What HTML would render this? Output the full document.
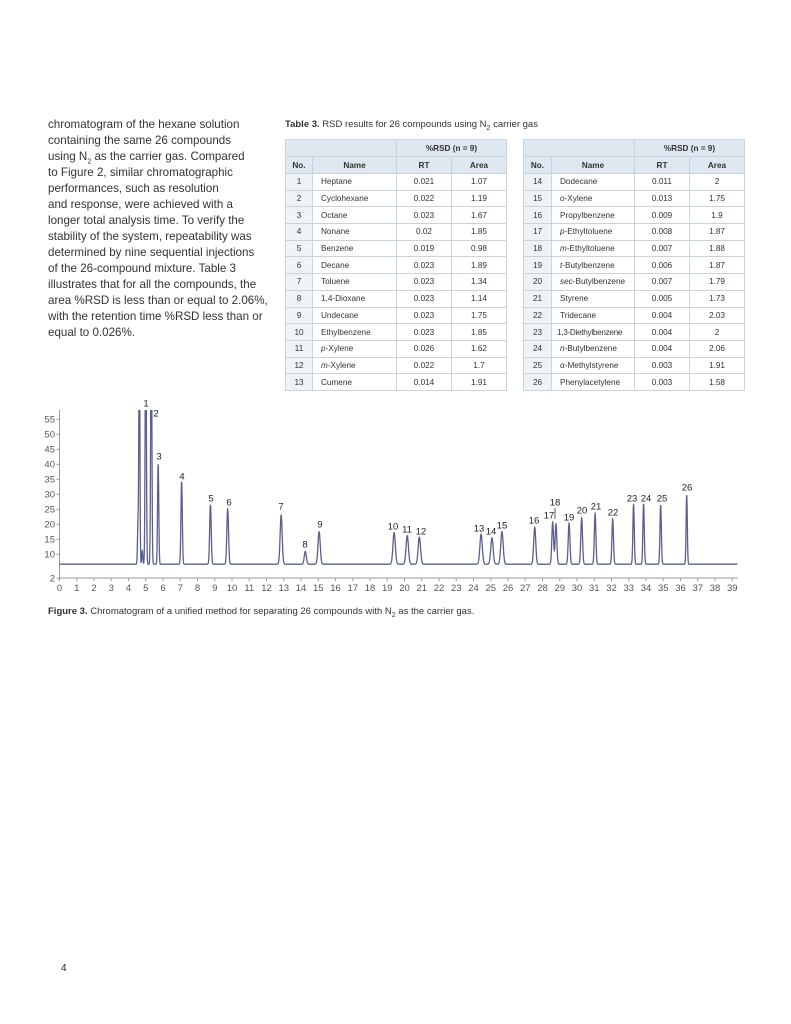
<!DOCTYPE html>
<html><head><meta charset="utf-8"><style>
*{margin:0;padding:0;box-sizing:border-box}
body{width:791px;height:1024px;background:#fff;position:relative;font-family:"Liberation Sans",sans-serif;color:#222;overflow:hidden}
.para{position:absolute;left:48px;top:117px;font-size:11.6px;line-height:16px;color:#333}
.para div{white-space:nowrap;height:16px}
sub{line-height:0;font-size:7px}
.ttl{position:absolute;left:285px;top:119px;font-size:9.5px;color:#333}
table{position:absolute;top:139px;border-collapse:collapse;font-size:8.2px;color:#333;table-layout:fixed}
td{border:1px solid #c9d3dd;text-align:center;height:16.7px;padding:0;white-space:nowrap;overflow:hidden}
tr.h td{height:17px;background:#dfe8f0;font-weight:bold}
td.n{background:#eef3f8}
td.nm{text-align:left;padding-left:8px}
.cap{position:absolute;left:48px;top:606px;font-size:9.5px;color:#333}
.pg{position:absolute;left:61px;top:963px;font-size:10px}
</style></head><body>
<div class="para">
<div>chromatogram of the hexane solution</div>
<div>containing the same 26 compounds</div>
<div>using N<sub>2</sub> as the carrier gas. Compared</div>
<div>to Figure 2, similar chromatographic</div>
<div>performances, such as resolution</div>
<div>and response, were achieved with a</div>
<div>longer total analysis time. To verify the</div>
<div>stability of the system, repeatability was</div>
<div>determined by nine sequential injections</div>
<div>of the 26-compound mixture. Table 3</div>
<div>illustrates that for all the compounds, the</div>
<div>area %RSD is less than or equal to 2.06%,</div>
<div>with the retention time %RSD less than or</div>
<div>equal to 0.026%.</div>
</div>
<div class="ttl"><b>Table 3.</b> RSD results for 26 compounds using N<sub>2</sub> carrier gas</div>
<table style="left:285px;width:221px">
<colgroup><col style="width:27px"><col style="width:84px"><col style="width:55px"><col style="width:55px"></colgroup>
<tr class="h"><td colspan="2"></td><td colspan="2">%RSD (n = 9)</td></tr>
<tr class="h"><td>No.</td><td>Name</td><td>RT</td><td>Area</td></tr>
<tr><td class="n">1</td><td class="nm">Heptane</td><td>0.021</td><td>1.07</td></tr>
<tr><td class="n">2</td><td class="nm">Cyclohexane</td><td>0.022</td><td>1.19</td></tr>
<tr><td class="n">3</td><td class="nm">Octane</td><td>0.023</td><td>1.67</td></tr>
<tr><td class="n">4</td><td class="nm">Nonane</td><td>0.02</td><td>1.85</td></tr>
<tr><td class="n">5</td><td class="nm">Benzene</td><td>0.019</td><td>0.98</td></tr>
<tr><td class="n">6</td><td class="nm">Decane</td><td>0.023</td><td>1.89</td></tr>
<tr><td class="n">7</td><td class="nm">Toluene</td><td>0.023</td><td>1.34</td></tr>
<tr><td class="n">8</td><td class="nm">1,4-Dioxane</td><td>0.023</td><td>1.14</td></tr>
<tr><td class="n">9</td><td class="nm">Undecane</td><td>0.023</td><td>1.75</td></tr>
<tr><td class="n">10</td><td class="nm">Ethylbenzene</td><td>0.023</td><td>1.85</td></tr>
<tr><td class="n">11</td><td class="nm"><i>p</i>-Xylene</td><td>0.026</td><td>1.62</td></tr>
<tr><td class="n">12</td><td class="nm"><i>m</i>-Xylene</td><td>0.022</td><td>1.7</td></tr>
<tr><td class="n">13</td><td class="nm">Cumene</td><td>0.014</td><td>1.91</td></tr>
</table>
<table style="left:523px;width:221px">
<colgroup><col style="width:28px"><col style="width:83px"><col style="width:55px"><col style="width:55px"></colgroup>
<tr class="h"><td colspan="2"></td><td colspan="2">%RSD (n = 9)</td></tr>
<tr class="h"><td>No.</td><td>Name</td><td>RT</td><td>Area</td></tr>
<tr><td class="n">14</td><td class="nm">Dodecane</td><td>0.011</td><td>2</td></tr>
<tr><td class="n">15</td><td class="nm"><i>o</i>-Xylene</td><td>0.013</td><td>1.75</td></tr>
<tr><td class="n">16</td><td class="nm">Propylbenzene</td><td>0.009</td><td>1.9</td></tr>
<tr><td class="n">17</td><td class="nm"><i>p</i>-Ethyltoluene</td><td>0.008</td><td>1.87</td></tr>
<tr><td class="n">18</td><td class="nm"><i>m</i>-Ethyltoluene</td><td>0.007</td><td>1.88</td></tr>
<tr><td class="n">19</td><td class="nm"><i>t</i>-Butylbenzene</td><td>0.006</td><td>1.87</td></tr>
<tr><td class="n">20</td><td class="nm"><i>sec</i>-Butylbenzene</td><td>0.007</td><td>1.79</td></tr>
<tr><td class="n">21</td><td class="nm">Styrene</td><td>0.005</td><td>1.73</td></tr>
<tr><td class="n">22</td><td class="nm">Tridecane</td><td>0.004</td><td>2.03</td></tr>
<tr><td class="n">23</td><td class="nm" style="padding-left:5px;letter-spacing:-0.3px">1,3-Diethylbenzene</td><td>0.004</td><td>2</td></tr>
<tr><td class="n">24</td><td class="nm"><i>n</i>-Butylbenzene</td><td>0.004</td><td>2.06</td></tr>
<tr><td class="n">25</td><td class="nm">α-Methylstyrene</td><td>0.003</td><td>1.91</td></tr>
<tr><td class="n">26</td><td class="nm">Phenylacetylene</td><td>0.003</td><td>1.58</td></tr>
</table>

<svg id="ch" style="position:absolute;left:0;top:0" width="791" height="1024" font-family="Liberation Sans, sans-serif">
<defs><clipPath id="cp"><rect x="59" y="410" width="700" height="170"/></clipPath></defs>
<g id="ax" stroke="#999" stroke-width="1" fill="none"></g>
<g id="lbl" font-size="9.5" fill="#555"></g>
<path id="sig" clip-path="url(#cp)" fill="none" stroke="#5b5f8e" stroke-width="1.3"/>
<g id="pk" font-size="9.5" fill="#222" text-anchor="middle" dominant-baseline="central"></g>
<line x1="555" y1="508" x2="555" y2="519" stroke="#333" stroke-width="0.8"/>
</svg>
<div class="cap"><b>Figure 3.</b> Chromatogram of a unified method for separating 26 compounds with N<sub>2</sub> as the carrier gas.</div>
<div class="pg">4</div>
<script>
var X=function(t){return 59.5+17.25*t},Y=function(v){return 554.3-(v-10)*3};
var ns="http://www.w3.org/2000/svg",ax=document.getElementById('ax'),lb=document.getElementById('lbl');
function el(p,n,a,tx){var e=document.createElementNS(ns,n);for(var k in a)e.setAttribute(k,a[k]);if(tx!=null)e.textContent=tx;p.appendChild(e);}
el(ax,'line',{x1:59.5,y1:410,x2:59.5,y2:578});
el(ax,'line',{x1:59.5,y1:578,x2:738,y2:578});
for(var i=0;i<=39;i++){el(ax,'line',{x1:X(i),y1:578,x2:X(i),y2:581});el(lb,'text',{x:X(i),y:591,'text-anchor':'middle'},i);}
var yt=[2,10,15,20,25,30,35,40,45,50,55];
yt.forEach(function(v){el(ax,'line',{x1:56.5,y1:Y(v),x2:59.5,y2:Y(v)});el(lb,'text',{x:55,y:Y(v)+3.3,'text-anchor':'end'},v);});
var P=[[4.55,13.3,0.03],[4.63,80,0.03],[4.8,4.5,0.03],[5.0,80,0.035],[5.32,80,0.035],[5.72,33.3,0.035],[7.08,27.5,0.04],[8.75,19.8,0.045],[9.75,18.3,0.05],[12.85,16.3,0.06],[14.25,4.3,0.06],[15.05,10.8,0.065],
[19.4,10.5,0.07],[20.16,9.5,0.07],[20.86,9,0.07],[24.44,10,0.07],[25.07,8.8,0.07],[25.65,10.8,0.07],[27.55,12.3,0.06],[28.59,14,0.05],[28.78,13.4,0.05],[29.54,13.6,0.05],[30.27,15.4,0.05],[31.05,16.8,0.045],[32.07,15,0.045],[33.28,20,0.04],[33.86,20.1,0.04],[34.85,19.7,0.04],[36.36,23,0.035]];
var d="";
for(var t=0;t<=39.3;t+=0.005){var v=6.7;P.forEach(function(p){var z=(t-p[0])/p[2];if(Math.abs(z)<6)v+=p[1]*Math.exp(-0.5*z*z);});d+=(d?"L":"M")+X(t).toFixed(2)+" "+Y(Math.min(v,70)).toFixed(2);}
document.getElementById('sig').setAttribute('d',d);
var L=[[1,146,404],[2,156,414],[3,159,457],[4,182,477],[5,211,499],[6,229,503],[7,281,507],[8,305,545],[9,320,525],[10,393,527],[11,407,530],[12,421,532],[13,479,529],[14,491,532],[15,502,526],[16,534,521],[17,549,516],[18,555,503],[19,569,518],[20,582,511],[21,596,507],[22,613,513],[23,632,499],[24,646,499],[25,662,499],[26,687,488]];
var pk=document.getElementById('pk');L.forEach(function(l){el(pk,'text',{x:l[1],y:l[2]},l[0]);});
</script>
</body></html>
